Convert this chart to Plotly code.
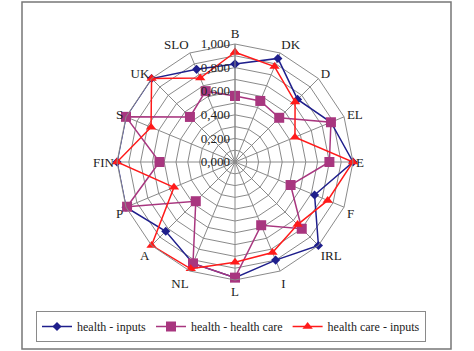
import plotly.graph_objects as go

categories = ["B", "DK", "D", "EL", "E", "F", "IRL", "I", "L", "NL", "A", "P", "FIN", "S", "UK", "SLO"]
health_inputs = [0.83, 0.95, 0.75, 0.88, 1.00, 0.73, 1.00, 0.90, 0.98, 0.93, 0.83, 1.00, 1.00, 1.00, 1.00, 0.85]
health_care = [0.56, 0.56, 0.53, 0.88, 0.80, 0.51, 0.80, 0.58, 0.98, 0.93, 0.47, 0.99, 0.64, 1.00, 0.54, 0.65]
care_inputs = [0.93, 0.875, 0.72, 0.55, 1.00, 0.85, 0.75, 0.83, 0.85, 0.98, 1.00, 0.56, 1.00, 0.77, 1.00, 0.77]
series_names = ["health - inputs", "health - health care", "health care - inputs"]
tick_vals = [0.0, 0.1, 0.2, 0.3, 0.4, 0.5, 0.6, 0.7, 0.8, 0.9, 1.0]
tick_text = ["0,000", "", "0,200", "", "0,400", "", "0,600", "", "0,800", "", "1,000"]

W, H = 474, 351
cx, cy, R = 235, 162, 118

def closed(v):
    return list(v) + [v[0]]

theta = closed(categories)
fig = go.Figure()
styles = [
    ("#1f1f8c", "diamond", 7),
    ("#a8367f", "square", 10),
    ("#ff1a1a", "triangle-up", 9),
]
for name, vals, (col, sym, sz) in zip(series_names, [health_inputs, health_care, care_inputs], styles):
    fig.add_trace(go.Scatterpolar(
        r=closed(vals), theta=theta, name=name, mode="lines+markers",
        line=dict(color=col, width=1.5),
        marker=dict(symbol=sym, size=sz, color=col),
    ))

font = dict(family="Liberation Serif, Times New Roman, serif", size=12, color="#222222")
fig.update_layout(
    width=W, height=H,
    margin=dict(l=0, r=0, t=0, b=0),
    paper_bgcolor="white",
    font=font,
    showlegend=True,
    polar=dict(
        domain=dict(x=[(cx - R) / W, (cx + R) / W], y=[(H - cy - R) / H, (H - cy + R) / H]),
        bgcolor="white",
        gridshape="linear",
        angularaxis=dict(
            rotation=90, direction="clockwise",
            showline=True, linecolor="#8a8a8a", linewidth=1,
            gridcolor="#8a8a8a", gridwidth=1,
            ticks="", tickfont=dict(size=13, family=font["family"], color="#222222"),
        ),
        radialaxis=dict(
            range=[0, 1], angle=90, side="counterclockwise",
            tickvals=tick_vals, ticktext=tick_text,
            showline=True, linecolor="#8a8a8a", linewidth=1,
            gridcolor="#8a8a8a", gridwidth=1,
            ticks="", tickfont=dict(size=13, family=font["family"], color="#222222"),
            tickangle=90,
        ),
    ),
    legend=dict(
        orientation="h", x=36 / W, xanchor="left", y=(H - 311) / H, yanchor="top",
        bordercolor="#8a8a8a", borderwidth=1, bgcolor="white",
        font=dict(size=12, family=font["family"], color="#222222"),
        itemwidth=30,
    ),
    shapes=[dict(type="rect", xref="paper", yref="paper",
                 x0=22 / W, x1=451 / W, y0=(H - 349) / H, y1=(H - 2) / H,
                 line=dict(color="#777777", width=1.5))],
)
fig.write_html("out.html")
